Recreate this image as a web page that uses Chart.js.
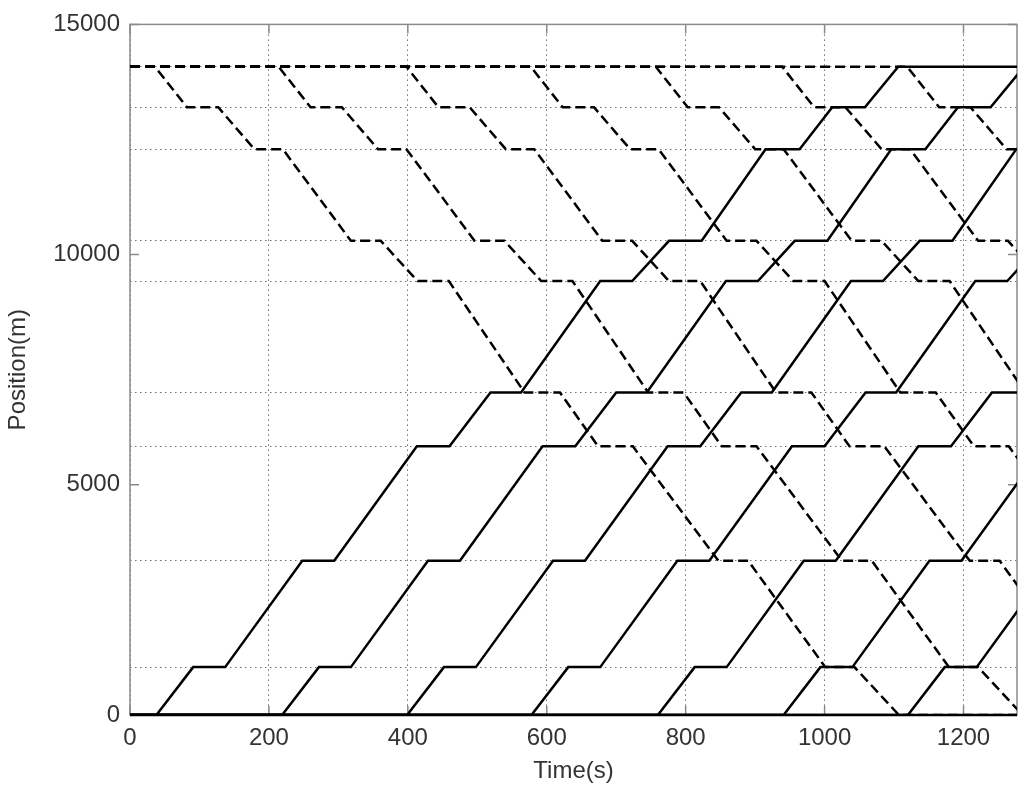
<!DOCTYPE html>
<html>
<head>
<meta charset="utf-8">
<script src="https://cdn.jsdelivr.net/npm/chart.js@4.4.1/dist/chart.umd.min.js"></script>
<style>
  html, body { margin: 0; padding: 0; background: #fff; }
</style>
</head>
<body>
<canvas id="timetable-chart" width="1024" height="793"></canvas>
<script>
// station positions along the line (m)
const stations = [0, 1040, 3350, 5835, 7005, 9425, 10300, 12290, 13200, 14080];

// upward trains leave 0 m at these times (s)
const upDepartures = [38, 219, 399, 578, 760, 941, 1120];
// arrive / leave each station, seconds after departure (bottom -> top)
const upArrive = [null, 53, 210, 375, 481, 639, 738, 877, 973, 1068];
const upLeave  = [0, 99, 256, 422, 525, 685, 785, 926, 1020, null];

// downward trains leave 14080 m at these times (s)
const downDepartures = [36, 214, 398, 577, 757, 939, 1119];
// arrive / leave each station, seconds after departure (top -> bottom)
const downArrive = [null, 46, 143, 282, 378, 532, 638, 811, 965, 1071];
const downLeave  = [0, 91, 184, 325, 423, 583, 688, 854, 1007, null];

const xTicks = [0, 200, 400, 600, 800, 1000, 1200];
const yTicks = [0, 5000, 10000, 15000];
const timeEnd = 1277;

function trainPath(start, stops, arrive, leave) {
    const pts = [{ x: 0, y: stops[0] }];
    stops.forEach((pos, i) => {
        if (arrive[i] !== null) pts.push({ x: start + arrive[i], y: pos });
        if (leave[i] !== null) pts.push({ x: start + leave[i], y: pos });
    });
    const last = pts[pts.length - 1];
    if (last.x < timeEnd) pts.push({ x: timeEnd, y: last.y });
    return pts;
}

const downStops = stations.slice().reverse();
const datasets = [];
upDepartures.forEach(t => {
    datasets.push({
        data: trainPath(t, stations, upArrive, upLeave),
        borderColor: '#000',
        borderWidth: 2.5,
        tension: 0
    });
});
downDepartures.forEach(t => {
    datasets.push({
        data: trainPath(t, downStops, downArrive, downLeave),
        borderColor: '#000',
        borderWidth: 2.5,
        borderDash: [10, 5],
        tension: 0
    });
});

// grey box round the plot plus inward tick marks, like the original figure
const frame = {
    id: 'frame',
    beforeDatasetsDraw(chart) {
        const { ctx, chartArea: a, scales } = chart;
        ctx.save();
        ctx.strokeStyle = '#8a8a8a';
        ctx.lineWidth = 1.5;
        ctx.strokeRect(a.left, a.top, a.right - a.left, a.bottom - a.top);
        ctx.beginPath();
        yTicks.forEach(v => {
            const y = scales.y.getPixelForValue(v);
            ctx.moveTo(a.left, y); ctx.lineTo(a.left + 9, y);
            ctx.moveTo(a.right, y); ctx.lineTo(a.right - 9, y);
        });
        xTicks.forEach(v => {
            const x = scales.x.getPixelForValue(v);
            ctx.moveTo(x, a.bottom); ctx.lineTo(x, a.bottom - 9);
            ctx.moveTo(x, a.top); ctx.lineTo(x, a.top + 9);
        });
        ctx.stroke();
        // bottom edge reads as a solid black line in the figure
        ctx.strokeStyle = '#000';
        ctx.lineWidth = 2.5;
        ctx.beginPath();
        ctx.moveTo(a.left, a.bottom);
        ctx.lineTo(a.right, a.bottom);
        ctx.stroke();
        ctx.restore();
    }
};

const font = { family: "'Liberation Sans', Arial, sans-serif", size: 24 };
const gridGrey = '#6e6e6e';

const ctx = document.getElementById('timetable-chart').getContext('2d');
new Chart(ctx, {
    type: 'line',
    data: { datasets: datasets },
    options: {
        responsive: false,
        animation: false,
        layout: { padding: { top: 19, right: 7, left: 0, bottom: 0 } },
        elements: { point: { radius: 0 } },
        plugins: { legend: { display: false }, tooltip: { enabled: false } },
        scales: {
            x: {
                type: 'linear',
                min: 0,
                max: timeEnd,
                afterBuildTicks: axis => { axis.ticks = xTicks.map(v => ({ value: v })); },
                afterFit: axis => { axis.height = 78; },
                ticks: {
                    font: font,
                    color: '#333',
                    padding: 9,
                    autoSkip: false,
                    maxRotation: 0,
                    callback: v => String(v)
                },
                grid: { color: gridGrey, lineWidth: 1, drawTicks: false },
                border: { display: false, dash: [1.5, 3.5] },
                title: { display: true, text: 'Time(s)', font: font, color: '#333', padding: { top: 4, bottom: 7 } }
            },
            y: {
                type: 'linear',
                min: 0,
                max: 15000,
                afterBuildTicks: axis => {
                    const vals = Array.from(new Set(yTicks.concat(stations))).sort((a, b) => a - b);
                    axis.ticks = vals.map(v => ({ value: v }));
                },
                afterFit: axis => { axis.width = 130; },
                ticks: {
                    font: font,
                    color: '#333',
                    padding: 10,
                    autoSkip: false,
                    callback: v => yTicks.includes(v) ? String(v) : ''
                },
                grid: {
                    color: c => (c.tick && stations.includes(c.tick.value)) ? gridGrey : 'rgba(0,0,0,0)',
                    lineWidth: 1,
                    drawTicks: false
                },
                border: { display: false, dash: [1.5, 3.5] },
                title: { display: true, text: 'Position(m)', font: font, color: '#333', padding: { top: 4, bottom: 4 } }
            }
        }
    },
    plugins: [frame]
});
</script>
</body>
</html>
